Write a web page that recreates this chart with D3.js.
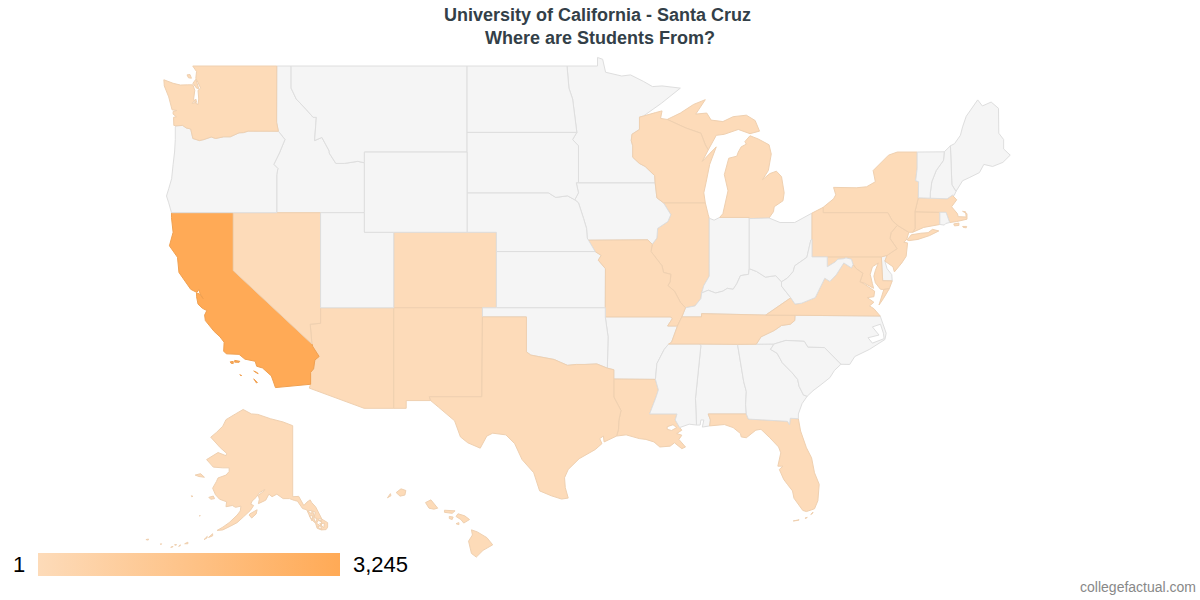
<!DOCTYPE html>
<html><head><meta charset="utf-8">
<script src="https://cdn.jsdelivr.net/npm/d3@7"></script>
<style>html,body{margin:0;background:#fff}svg{display:block}</style></head>
<body><svg id="c" width="1200" height="600"></svg>
<script>
const titleLines=["University of California - Santa Cruz","Where are Students From?"];
const credit="collegefactual.com";
const legendMin=1, legendMax=3245;

const WA=[[[-122.76,49],[-117.03,49],[-117.04,46.42],[-116.92,45.995],[-118.98,46],[-119.3,45.93],[-119.6,45.92],[-120.2,45.73],[-120.65,45.73],[-121.2,45.65],[-121.5,45.72],[-122,45.6],[-122.3,45.55],[-122.75,45.65],[-122.9,46.1],[-123.2,46.15],[-123.45,46.27],[-123.9,46.25],[-124.05,46.27],[-124.07,46.65],[-123.88,46.68],[-124.1,46.8],[-124.1,46.92],[-123.85,46.97],[-124.17,47],[-124.4,47.6],[-124.7,48.1],[-124.73,48.38],[-124.1,48.22],[-123.6,48.14],[-123.1,48.15],[-122.75,48.15],[-122.62,47.9],[-122.7,47.5],[-122.55,47.3],[-122.4,47.25],[-122.35,47.5],[-122.4,47.9],[-122.22,48],[-122.4,48.25],[-122.55,48.45],[-122.5,48.75]],
[[-122.75,48.22],[-122.55,48.4],[-122.45,48.2],[-122.35,47.98],[-122.5,48.0]],[[-123.15,48.6],[-122.95,48.62],[-122.85,48.45],[-123.05,48.47]],[[-122.8,47.3],[-122.55,47.5],[-122.5,47.35]]];
const OR=[[[-116.92,45.995],[-118.98,46],[-119.3,45.93],[-119.6,45.92],[-120.2,45.73],[-120.65,45.73],[-121.2,45.65],[-121.5,45.72],[-122,45.6],[-122.3,45.55],[-122.75,45.65],[-122.9,46.1],[-123.2,46.15],[-123.45,46.27],[-123.9,46.25],[-123.95,46.2],[-123.95,45.6],[-124,45],[-124.1,44.4],[-124.2,43.7],[-124.4,43.2],[-124.55,42.84],[-124.4,42.5],[-124.21,42],[-120,42],[-117.03,42],[-117.03,43.9],[-116.95,44.2],[-117.23,44.4],[-116.85,44.95],[-116.47,45.6]]];
const ID=[[[-117.03,49],[-116.05,49],[-116.05,48],[-115.7,47.5],[-115,47],[-114.55,46.65],[-114.33,46.65],[-114.45,45.55],[-113.95,45.7],[-113.45,45.05],[-113.45,44.95],[-113,44.45],[-112.4,44.45],[-111.5,44.55],[-111.05,44.48],[-111.05,42],[-114.04,42],[-117.03,42],[-117.03,43.9],[-116.95,44.2],[-117.23,44.4],[-116.85,44.95],[-116.47,45.6],[-116.92,45.995],[-117.04,46.42]]];
const MT=[[[-116.05,49],[-104.05,49],[-104.05,45.94],[-104.05,45],[-111.05,45],[-111.05,44.48],[-111.5,44.55],[-112.4,44.45],[-113,44.45],[-113.45,44.95],[-113.45,45.05],[-113.95,45.7],[-114.45,45.55],[-114.33,46.65],[-114.55,46.65],[-115,47],[-115.7,47.5],[-116.05,48]]];
const WY=[[[-111.05,45],[-104.05,45],[-104.05,43],[-104.05,41],[-109.05,41],[-111.05,41],[-111.05,42],[-111.05,44.48]]];
const CA=[[[-124.21,42],[-120,42],[-120,39],[-114.63,35],[-114.57,34.85],[-114.14,34.3],[-114.43,34.1],[-114.52,33.6],[-114.72,33.4],[-114.72,32.72],[-117.12,32.53],[-117.25,32.85],[-117.4,33.2],[-118,33.65],[-118.4,33.75],[-118.5,34.03],[-119.2,34.15],[-119.6,34.42],[-120.47,34.45],[-120.65,34.6],[-120.62,35.1],[-120.9,35.4],[-121.3,35.7],[-121.9,36.3],[-121.95,36.6],[-121.8,36.85],[-122.1,36.97],[-122.4,37.2],[-122.5,37.6],[-122.5,37.8],[-122.3,37.75],[-122.05,37.5],[-122.25,37.75],[-122.35,37.98],[-122.48,37.83],[-122.9,38],[-123.7,38.9],[-123.8,39.7],[-124.35,40.3],[-124.1,41],[-124.21,41.75]],
[[-119.9,34.08],[-119.55,34.03],[-119.6,33.97],[-119.9,33.98]],[[-120.2,34],[-120,34.02],[-120,33.9],[-120.15,33.92]],[[-118.6,33.03],[-118.35,32.82],[-118.42,32.8]],[[-118.6,33.48],[-118.35,33.38],[-118.3,33.32],[-118.5,33.42]],[[-119.55,33.27],[-119.42,33.22],[-119.5,33.22]]];
const NV=[[[-120,42],[-117.03,42],[-114.04,42],[-114.04,37],[-114.04,36.15],[-114.75,36.1],[-114.63,35],[-120,39]]];
const UT=[[[-114.04,42],[-111.05,42],[-111.05,41],[-109.05,41],[-109.05,37],[-114.04,37]]];
const AZ=[[[-114.04,37],[-109.05,37],[-109.05,31.33],[-111.07,31.33],[-114.81,32.5],[-114.72,32.72],[-114.72,33.4],[-114.52,33.6],[-114.43,34.1],[-114.14,34.3],[-114.57,34.85],[-114.63,35],[-114.75,36.1],[-114.04,36.15]]];
const CO=[[[-109.05,41],[-102.05,41],[-102.05,40],[-102.05,37],[-103,37],[-109.05,37]]];
const NM=[[[-109.05,37],[-103,37],[-103,36.5],[-103.04,32],[-106.62,32],[-106.53,31.78],[-108.2,31.78],[-108.2,31.33],[-109.05,31.33]]];
const OK=[[[-103,37],[-102.05,37],[-94.62,37],[-94.62,36.5],[-94.43,35.4],[-94.48,33.64],[-95.2,33.88],[-96,33.85],[-96.6,33.85],[-97.2,33.8],[-97.7,33.98],[-98.1,34.13],[-99.2,34.3],[-99.7,34.38],[-100,34.56],[-100,36.5],[-103,36.5]]];
const TX=[[[-103,36.5],[-100,36.5],[-100,34.56],[-99.7,34.38],[-99.2,34.3],[-98.1,34.13],[-97.7,33.98],[-97.2,33.8],[-96.6,33.85],[-96,33.85],[-95.2,33.88],[-94.48,33.64],[-94.04,33.55],[-94.04,33.02],[-94.04,31.99],[-93.55,31.2],[-93.7,30.6],[-93.72,30.1],[-93.85,29.7],[-94.7,29.35],[-94.75,29.7],[-95,29.55],[-94.85,29.25],[-95.3,28.9],[-96.4,28.35],[-97.15,27.7],[-97.4,27.2],[-97.35,26.6],[-97.15,25.96],[-97.6,25.9],[-98.3,26.1],[-99.1,26.4],[-99.5,27.5],[-100.3,28.3],[-100.8,29.25],[-101.4,29.77],[-102.3,29.87],[-102.7,29.7],[-103.15,28.98],[-104,29.3],[-104.5,29.65],[-104.9,30.6],[-106,31.4],[-106.53,31.78],[-106.62,32],[-103.04,32]]];
const ND=[[[-104.05,49],[-97.23,49],[-97.1,48],[-96.85,47.5],[-96.56,45.94],[-104.05,45.94]]];
const SD=[[[-104.05,45.94],[-96.56,45.94],[-96.85,45.6],[-96.45,45.3],[-96.45,43.5],[-96.6,43.5],[-96.45,43],[-96.7,42.65],[-97.2,42.85],[-98,42.77],[-98.5,43],[-104.05,43]]];
const NE=[[[-104.05,43],[-98.5,43],[-98,42.77],[-97.2,42.85],[-96.7,42.65],[-96.45,42.5],[-96.1,41.7],[-95.9,41.2],[-95.85,40.7],[-95.31,40],[-102.05,40],[-102.05,41],[-104.05,41]]];
const KS=[[[-102.05,40],[-95.31,40],[-94.9,39.8],[-95.1,39.55],[-94.61,39.1],[-94.62,37],[-102.05,37]]];
const MN=[[[-97.23,49],[-95.15,49],[-95.15,49.38],[-94.8,49.3],[-94.6,48.72],[-93.5,48.55],[-92.9,48.6],[-92,48.3],[-91.4,48.07],[-90.75,48.1],[-89.5,48],[-90.8,47.3],[-92.02,46.71],[-92.29,46.66],[-92.29,46.08],[-92.8,45.85],[-92.85,45.55],[-92.75,45.3],[-92.75,44.75],[-92.3,44.45],[-91.9,44.3],[-91.25,43.85],[-91.22,43.5],[-96.45,43.5],[-96.45,45.3],[-96.85,45.6],[-96.56,45.94],[-96.85,47.5],[-97.1,48]]];
const IA=[[[-96.45,43.5],[-91.22,43.5],[-91.1,42.75],[-90.65,42.5],[-90.15,41.9],[-90.35,41.55],[-91.05,41.2],[-91.1,40.7],[-91.42,40.38],[-91.73,40.61],[-95.77,40.59],[-95.85,40.7],[-95.9,41.2],[-96.1,41.7],[-96.45,42.5],[-96.7,42.65],[-96.45,43],[-96.6,43.5]]];
const MO=[[[-95.77,40.59],[-91.73,40.61],[-91.42,40.38],[-91.5,40],[-90.75,39.25],[-90.65,38.9],[-90.15,38.8],[-90.2,38.4],[-90.35,38.2],[-89.9,37.9],[-89.5,37.3],[-89.15,37],[-89.4,36.5],[-89.7,36],[-90.37,36],[-90.05,36.4],[-90.15,36.5],[-94.62,36.5],[-94.62,37],[-94.61,39.1],[-95.1,39.55],[-94.9,39.8],[-95.31,40]]];
const AR=[[[-94.62,36.5],[-90.15,36.5],[-90.05,36.4],[-90.37,36],[-89.7,36],[-90.1,35.1],[-90.6,34.7],[-91.1,33.9],[-91.2,33],[-94.04,33.02],[-94.04,33.55],[-94.48,33.64],[-94.43,35.4]]];
const LA=[[[-94.04,33.02],[-91.2,33],[-91,32.4],[-91.15,32],[-91.6,31],[-89.73,31],[-89.85,30.65],[-89.55,30.2],[-89.4,30.05],[-89.75,29.85],[-89.4,29.75],[-89.6,29.5],[-89.15,29.05],[-89.4,28.95],[-89.9,29.3],[-90.2,29.1],[-90.9,29.05],[-91.3,29.35],[-91.85,29.5],[-92.3,29.55],[-93.2,29.77],[-93.85,29.7],[-93.72,30.1],[-93.7,30.6],[-93.55,31.2],[-94.04,31.99]],
[[-90.4,30.25],[-90,30.37],[-89.75,30.2],[-90.1,30.03],[-90.4,30.1]]];
const MS=[[[-91.2,33],[-91.1,33.9],[-90.6,34.7],[-90.3,35],[-88.2,35],[-88.1,34.9],[-88.47,31.9],[-88.4,30.35],[-88.9,30.4],[-89.55,30.2],[-89.85,30.65],[-89.73,31],[-91.6,31],[-91.15,32],[-91,32.4]]];
const TN=[[[-90.3,35],[-90.1,35.1],[-89.7,36],[-89.4,36.5],[-88.06,36.5],[-88.05,36.68],[-83.68,36.6],[-81.68,36.59],[-81.7,36.3],[-82,36.1],[-82.6,36.03],[-83.1,35.75],[-84,35.4],[-84.32,34.99],[-85.6,34.98],[-88.2,35]]];
const AL=[[[-88.2,35],[-85.6,34.98],[-85.18,32.87],[-85,32.3],[-85.05,31.55],[-85,31],[-87.6,31],[-87.45,30.65],[-87.5,30.3],[-88,30.23],[-87.9,30.65],[-88.1,30.65],[-88.15,30.35],[-88.4,30.35],[-88.47,31.9],[-88.1,34.9]]];
const GA=[[[-85.6,34.98],[-84.32,34.99],[-83.11,35],[-83.35,34.7],[-82.9,34.48],[-82.55,33.95],[-81.9,33.4],[-81.5,33],[-81.4,32.6],[-81.1,32.1],[-80.85,32.03],[-81.2,31.6],[-81.45,31],[-81.45,30.72],[-82,30.75],[-82.05,30.37],[-82.2,30.57],[-84.86,30.7],[-85,31],[-85.05,31.55],[-85,32.3],[-85.18,32.87]]];
const FL=[[[-87.6,31],[-85,31],[-84.86,30.7],[-82.2,30.57],[-82.05,30.37],[-82,30.75],[-81.45,30.72],[-81.3,30],[-80.9,29],[-80.55,28.4],[-80.35,27.5],[-80.03,26.8],[-80.12,25.8],[-80.35,25.3],[-80.9,25.13],[-81.15,25.2],[-81.75,25.95],[-81.85,26.4],[-82.2,26.8],[-82.45,27.1],[-82.75,27.7],[-82.5,27.9],[-82.85,27.9],[-82.65,28.7],[-82.8,29.05],[-83.4,29.6],[-84,30.1],[-84.35,30.05],[-85,29.6],[-85.35,29.65],[-85.4,29.85],[-85.9,30.2],[-86.5,30.38],[-87.5,30.3],[-87.45,30.65]],
[[-80.6,24.95],[-80.45,25.1],[-80.5,25.0]],[[-81,24.72],[-80.85,24.78],[-80.9,24.72]],[[-81.8,24.55],[-81.4,24.62],[-81.5,24.58]]];
const SC=[[[-83.11,35],[-82.3,35.2],[-81.05,35.15],[-80.8,34.82],[-79.67,34.8],[-78.55,33.86],[-79,33.5],[-79.3,33.1],[-79.9,32.7],[-80.45,32.35],[-80.85,32.03],[-81.1,32.1],[-81.4,32.6],[-81.5,33],[-81.9,33.4],[-82.55,33.95],[-82.9,34.48],[-83.35,34.7]]];
const NC=[[[-84.32,34.99],[-83.11,35],[-82.3,35.2],[-81.05,35.15],[-80.8,34.82],[-79.67,34.8],[-78.55,33.86],[-77.95,33.85],[-77.6,34.3],[-76.6,34.7],[-75.55,35.25],[-75.46,35.6],[-75.87,36.55],[-81.68,36.59],[-81.7,36.3],[-82,36.1],[-82.6,36.03],[-83.1,35.75],[-84,35.4]],
[[-75.6,35.3],[-76.4,35.05],[-76.7,35.35],[-75.95,35.5],[-76.4,35.95],[-75.85,36.1],[-75.65,35.6]]];
const VA=[[[-83.68,36.6],[-81.68,36.59],[-75.87,36.55],[-76.3,36.95],[-76.6,37.1],[-76.3,37.3],[-76.75,37.55],[-76.3,37.6],[-76.25,37.9],[-76.95,38.28],[-77.25,38.4],[-77.05,38.85],[-77.5,39.1],[-77.72,39.32],[-77.83,39.14],[-78.35,39.4],[-78.87,38.77],[-79.3,38.42],[-79.65,38.59],[-80.3,37.55],[-81.23,37.25],[-81.68,37.2],[-81.97,37.54]],
[[-75.25,38.03],[-75.62,37.99],[-75.95,37.15],[-75.65,37.5]]];
const WV=[[[-77.72,39.32],[-77.83,39.14],[-78.35,39.4],[-78.87,38.77],[-79.3,38.42],[-79.65,38.59],[-80.3,37.55],[-81.23,37.25],[-81.68,37.2],[-81.97,37.54],[-82.6,38.17],[-82.6,38.4],[-82.2,38.6],[-81.8,38.95],[-81.7,39.25],[-80.87,39.7],[-80.6,40.6],[-80.52,40.64],[-80.52,39.72],[-79.48,39.72],[-79.48,39.2],[-78.95,39.45],[-78.75,39.6],[-78.4,39.62],[-78.2,39.67],[-77.83,39.6]]];
const KY=[[[-89.4,36.5],[-89.15,37],[-88.5,37.1],[-88.1,37.5],[-88.05,37.8],[-87.6,37.95],[-87.1,37.8],[-86.6,37.9],[-86.3,38.05],[-85.9,38],[-85.65,38.3],[-85.4,38.73],[-84.85,38.8],[-84.8,39.1],[-84.3,38.95],[-83.7,38.65],[-83,38.73],[-82.6,38.4],[-82.6,38.17],[-81.97,37.54],[-83.68,36.6],[-88.05,36.68],[-88.06,36.5]]];
const OH=[[[-84.8,41.7],[-83.45,41.73],[-82.7,41.5],[-81.7,41.5],[-80.52,41.98],[-80.52,40.64],[-80.6,40.6],[-80.87,39.7],[-81.7,39.25],[-81.8,38.95],[-82.2,38.6],[-82.6,38.4],[-83,38.73],[-83.7,38.65],[-84.3,38.95],[-84.8,39.1]]];
const IN=[[[-87.53,41.72],[-87.2,41.62],[-86.82,41.76],[-84.8,41.76],[-84.8,39.1],[-84.85,38.8],[-85.4,38.73],[-85.65,38.3],[-85.9,38],[-86.3,38.05],[-86.6,37.9],[-87.1,37.8],[-87.6,37.95],[-88.05,37.8],[-87.9,38.2],[-87.53,38.7],[-87.53,39.35]]];
const IL=[[[-90.65,42.5],[-87.8,42.5],[-87.6,41.9],[-87.53,41.72],[-87.53,39.35],[-87.53,38.7],[-87.9,38.2],[-88.05,37.8],[-88.1,37.5],[-88.5,37.1],[-89.15,37],[-89.5,37.3],[-89.9,37.9],[-90.35,38.2],[-90.2,38.4],[-90.15,38.8],[-90.65,38.9],[-90.75,39.25],[-91.5,40],[-91.42,40.38],[-91.1,40.7],[-91.05,41.2],[-90.35,41.55],[-90.15,41.9]]];
const WI=[[[-92.29,46.66],[-92.02,46.71],[-91.2,46.87],[-90.75,46.95],[-90.85,46.6],[-90.4,46.55],[-89.1,46.14],[-88.1,45.9],[-87.8,45.35],[-87.6,45.1],[-88,44.55],[-87.4,45],[-87.05,45.25],[-87.5,44.4],[-87.75,43.5],[-87.9,43],[-87.8,42.5],[-90.65,42.5],[-91.1,42.75],[-91.22,43.5],[-91.25,43.85],[-91.9,44.3],[-92.3,44.45],[-92.75,44.75],[-92.75,45.3],[-92.85,45.55],[-92.8,45.85],[-92.29,46.08]]];
const MI=[[[-86.82,41.76],[-84.8,41.76],[-84.8,41.7],[-83.45,41.73],[-83.15,42.05],[-83.1,42.3],[-82.5,42.6],[-82.42,43],[-82.6,43.8],[-82.95,44.07],[-83.4,43.95],[-83.9,43.65],[-83.5,44.1],[-83.3,44.9],[-83.45,45.35],[-84.2,45.63],[-84.75,45.78],[-85.1,45.5],[-85,45.38],[-85.35,45.25],[-85.55,45],[-85.65,44.8],[-86.2,44.7],[-86.5,43.9],[-86.25,43.1],[-86.6,41.95]],
[[-90.4,46.55],[-89.1,46.14],[-88.1,45.9],[-87.8,45.35],[-87.6,45.1],[-87.05,45.8],[-86.5,45.85],[-85.55,46.08],[-84.75,45.88],[-84.1,46],[-84.4,46.5],[-85,46.75],[-85.9,46.68],[-86.6,46.45],[-87.4,46.52],[-87.7,46.85],[-88.45,46.8],[-87.8,47.47],[-88.6,47.25],[-89.5,46.85]]];
const PA=[[[-80.52,41.98],[-79.76,42.27],[-79.76,42],[-75.35,42],[-75.05,41.6],[-74.7,41.36],[-75.13,40.98],[-75.2,40.68],[-74.72,40.15],[-75.4,39.8],[-75.79,39.72],[-79.48,39.72],[-80.52,39.72],[-80.52,40.64]]];
const NY=[[[-79.76,42.27],[-79.05,42.7],[-78.9,42.9],[-79.05,43.27],[-77.5,43.25],[-76.8,43.3],[-76.2,43.55],[-76.35,44.1],[-75.3,44.85],[-74.7,45],[-73.35,45],[-73.35,44.2],[-73.45,43.6],[-73.25,43.55],[-73.27,42.75],[-73.5,42.05],[-73.49,41.2],[-73.65,41],[-73.92,41],[-74.7,41.36],[-75.05,41.6],[-75.35,42],[-79.76,42]],
[[-74.03,40.6],[-73.75,40.87],[-73.1,40.95],[-72.6,40.98],[-72.3,41.15],[-71.87,41.07],[-72.5,40.83],[-73.3,40.63],[-73.9,40.57]]];
const NJ=[[[-74.7,41.36],[-73.92,41],[-74.05,40.65],[-74.25,40.48],[-74,40.45],[-74.1,39.75],[-74.4,39.4],[-74.9,38.93],[-75,39.2],[-75.55,39.5],[-75.4,39.8],[-74.72,40.15],[-75.2,40.68],[-75.13,40.98]]];
const DE=[[[-75.79,39.72],[-75.4,39.8],[-75.55,39.5],[-75.4,39.1],[-75.08,38.78],[-75.05,38.45],[-75.7,38.46]]];
const MD=[[[-79.48,39.72],[-75.79,39.72],[-75.7,38.46],[-75.05,38.45],[-75.25,38.03],[-75.62,37.99],[-75.85,38],[-76.2,38.35],[-76.3,38.7],[-76.2,39],[-76,39.4],[-76.4,39.2],[-76.55,38.8],[-76.4,38.3],[-76.32,38.05],[-76.95,38.33],[-77.25,38.4],[-77.05,38.85],[-77.5,39.1],[-77.72,39.32],[-77.83,39.6],[-78.2,39.67],[-78.4,39.62],[-78.75,39.6],[-78.95,39.45],[-79.48,39.2]]];
const CT=[[[-73.5,42.05],[-71.8,42.02],[-71.8,41.4],[-72.9,41.25],[-73.65,41],[-73.49,41.2]]];
const RI=[[[-71.8,42.02],[-71.38,42.02],[-71.13,41.5],[-71.4,41.45],[-71.5,41.37],[-71.8,41.4]]];
const MA=[[[-73.5,42.05],[-73.27,42.75],[-72.46,42.73],[-71.3,42.7],[-70.95,42.88],[-70.65,42.65],[-71,42.3],[-70.6,41.95],[-70.55,41.8],[-70,41.78],[-70.05,42.05],[-70.25,42.07],[-69.95,41.95],[-69.95,41.67],[-70.65,41.55],[-71.13,41.5],[-71.38,42.02],[-71.8,42.02]],
[[-70.85,41.43],[-70.5,41.47],[-70.5,41.35],[-70.8,41.33]],[[-70.25,41.3],[-69.97,41.3],[-70,41.23],[-70.2,41.25]]];
const VT=[[[-73.35,45],[-71.5,45.01],[-71.55,44.6],[-72.05,44.1],[-72.35,43.55],[-72.45,43],[-72.46,42.73],[-73.27,42.75],[-73.25,43.55],[-73.45,43.6],[-73.35,44.2]]];
const NH=[[[-71.5,45.01],[-71.08,45.3],[-70.98,43.4],[-70.7,43.07],[-70.82,42.87],[-70.95,42.88],[-71.3,42.7],[-72.46,42.73],[-72.45,43],[-72.35,43.55],[-72.05,44.1],[-71.55,44.6]]];
const ME=[[[-71.08,45.3],[-70.8,45.4],[-70.4,45.8],[-70.25,46.2],[-70,46.7],[-69.22,47.46],[-68.9,47.18],[-68.3,47.36],[-67.8,47.07],[-67.78,45.9],[-67.45,45.6],[-67.45,45.15],[-67,44.85],[-67.5,44.5],[-68.2,44.3],[-68.8,44.4],[-69.1,44],[-69.8,43.75],[-70.25,43.6],[-70.7,43.07],[-70.98,43.4]]];
const AK=[[[-141,69.65],[-141,60.3],[-139.1,60.35],[-137.5,58.9],[-136.5,59.45],[-135.5,59.8],[-135,59.35],[-133.8,58.7],[-131.8,56.6],[-130,56],[-130,55.2],[-130.5,54.75],[-132,54.7],[-133.3,55],[-133.8,55.9],[-134.8,56.4],[-135.8,57.3],[-136.6,58.2],[-137.9,58.4],[-139.5,59.6],[-140.4,59.7],[-142,60],[-144,60],[-146,60.7],[-147.5,60.3],[-148.5,60.7],[-149.5,59.75],[-151.8,59.2],[-151.5,59.9],[-151.8,60.5],[-150,61.2],[-149.8,61.4],[-151.5,60.9],[-152.5,60.2],[-153.8,59.6],[-154.2,59.1],[-153.3,58.9],[-154.3,58.1],[-156.5,57],[-158.5,56],[-160.5,55.4],[-163,54.7],[-164.8,54.6],[-163,55.2],[-161,56],[-158.5,57.3],[-157.5,58],[-157.3,58.8],[-159,58.6],[-160,58.9],[-162,58.7],[-161.8,59.5],[-164,59.9],[-165.3,60.6],[-166.2,61.6],[-165,62.6],[-164.5,63.1],[-162,63.5],[-161,64],[-161,64.5],[-163,64.5],[-166,64.6],[-168.1,65.6],[-164.5,66.5],[-162,66.1],[-161.8,66.4],[-163.8,67.1],[-166.8,68.35],[-165,68.9],[-163,69.6],[-162,70.3],[-159,70.9],[-156.6,71.35],[-154,70.9],[-152,70.85],[-148,70.4],[-144,70.05]],
[[-154.5,57.5],[-152.2,58.2],[-152.5,57.5],[-153.9,56.8],[-154.7,57.3]],[[-171.7,63.5],[-170,63.7],[-168.8,63.2],[-170.5,63.3]],[[-167.4,60.2],[-166,60.4],[-165.6,60],[-166.8,59.9]],[[-172.9,60.45],[-172.4,60.35],[-172.8,60.3]],[[-170.4,57.2],[-170.1,57.22],[-170.2,57.12]],
[[-167.5,53.3],[-166.2,54],[-166.2,53.6]],[[-168.9,52.9],[-167.9,53.5],[-168,53.2]],[[-175,52.1],[-174,52.4],[-174,52.1]],[[-176.9,51.6],[-176.4,51.9],[-176.4,51.7]],[[-178.2,51.9],[-177.6,51.95],[-177.7,51.8]],[[-179.4,51.4],[-178.7,51.6],[-178.8,51.45]],[[-182.6,52.1],[-182.3,52.1],[-182.5,51.9]],[[-187.2,52.9],[-186.4,53],[-186.5,52.8]],
[[-133.5,55.9],[-132,55.3],[-131.9,56.3],[-132.9,56.4]],[[-136.3,58],[-135,57.5],[-135,58.1]],[[-135.8,57.2],[-134.9,56.3],[-134.7,57.2]],[[-134.7,58],[-134.2,57],[-133.9,57.8]],[[-132.5,55.8],[-131.2,55.1],[-131,55.9]],[[-134.4,56.9],[-133.9,56],[-133.3,56.7]],[[-133,56.6],[-132.2,56.1],[-132,56.7]],[[-133.2,55.2],[-131.9,54.8],[-132.2,55.5]]];
const HI=[[[-155.9,20.25],[-155.6,20.15],[-155.1,19.87],[-154.8,19.52],[-155.3,19.25],[-155.65,18.92],[-155.9,19.1],[-156.05,19.7],[-155.85,20]],
[[-156.7,20.9],[-156.6,21.03],[-156.25,20.93],[-156,20.75],[-156.3,20.58],[-156.45,20.75]],[[-157.3,21.2],[-156.75,21.17],[-156.9,21.05],[-157.3,21.1]],[[-157.05,20.9],[-156.85,20.87],[-156.9,20.75],[-157.05,20.8]],[[-156.7,20.55],[-156.55,20.6],[-156.55,20.5]],
[[-158.28,21.57],[-158,21.7],[-157.65,21.3],[-157.85,21.25],[-158.1,21.3]],[[-159.8,22.05],[-159.55,22.23],[-159.3,22.15],[-159.35,21.93],[-159.6,21.88]],[[-160.25,21.8],[-160.1,22],[-160.07,21.9]]];

const stateCodes=["AL","AK","AZ","AR","CA","CO","CT","DE","FL","GA","HI","ID","IL","IN","IA","KS","KY","LA","ME","MD","MA","MI","MN","MS","MO","MT","NE","NV","NH","NJ","NM","NY","NC","ND","OH","OK","OR","PA","RI","SC","SD","TN","TX","UT","VT","VA","WA","WV","WI","WY"];
const stateShapes=[AL,AK,AZ,AR,CA,CO,CT,DE,FL,GA,HI,ID,IL,IN,IA,KS,KY,LA,ME,MD,MA,MI,MN,MS,MO,MT,NE,NV,NH,NJ,NM,NY,NC,ND,OH,OK,OR,PA,RI,SC,SD,TN,TX,UT,VT,VA,WA,WV,WI,WY];
const stateValues=[null,2,8,null,3245,15,3,null,12,null,20,null,9,null,null,null,null,1,null,4,6,3,null,null,2,null,null,14,null,5,4,18,null,null,null,null,null,6,null,null,null,2,16,null,null,5,25,null,3,null];

const colorLow="#fddbb9", colorHigh="#ffaa56", noData="#f5f5f5", noStroke="#dedede";
const color=d3.scaleLinear().domain([legendMin,legendMax]).range([colorLow,colorHigh]);

const svg=d3.select("#c");
const grad=svg.append("defs").append("linearGradient").attr("id","lg");
grad.selectAll("stop").data([legendMin,legendMax]).join("stop")
  .attr("offset",(d,i)=>i).attr("stop-color",d=>color(d));

const lower=d3.geoMercator().scale(840).center([-124.7,49]).translate([164.3,66]);
const alaska=d3.geoMercator().rotate([150,0]).scale(182).center([9,71.4]).translate([292.7,409]);
const hawaii=d3.geoMercator().rotate([150,0]).scale(1106).center([-4.8,18.91]).translate([492.7,557.3]);
const pathFor=p=>d3.geoPath(d3.geoTransform({point(x,y){const q=p([x,y]);this.stream.point(q[0],q[1]);}}));
const paths={lower:pathFor(lower),alaska:pathFor(alaska),hawaii:pathFor(hawaii)};

const rows=stateCodes.map((c,i)=>({code:c,value:stateValues[i],rings:stateShapes[i]}));
svg.append("g").selectAll("path").data(rows).join("path")
  .attr("d",d=>{const g={type:"MultiPolygon",coordinates:d.rings.map(r=>[r.concat([r[0]])])};
    return (d.code==="AK"?paths.alaska:d.code==="HI"?paths.hawaii:paths.lower)(g);})
  .attr("fill",d=>d.value==null?noData:color(d.value))
  .attr("fill-rule","evenodd")
  .attr("stroke",d=>d.value==null?noStroke:(d.code==="CA"?"#f0a050":"#efd0b0"))
  .attr("stroke-width",1).attr("stroke-linejoin","round");

const font="'Liberation Sans',Arial,sans-serif";
svg.append("g").selectAll("text").data(titleLines).join("text")
  .attr("x",(d,i)=>i?600:597.5).attr("y",(d,i)=>21+i*23).attr("text-anchor","middle")
  .attr("font-family",font).attr("font-weight","bold").attr("font-size",18).attr("fill","#333f48").text(d=>d);

const legendScale=d3.scaleLinear().domain([legendMin,legendMax]).range([38,340]);
svg.append("rect").attr("x",legendScale(legendMin)).attr("y",553).attr("width",legendScale(legendMax)-legendScale(legendMin)).attr("height",23).attr("fill","url(#lg)");
svg.append("text").attr("x",13).attr("y",572).attr("font-family",font).attr("font-size",22).attr("fill","#000").text(d3.format(",")(legendMin));
svg.append("text").attr("x",353).attr("y",572).attr("font-family",font).attr("font-size",22).attr("fill","#000").text(d3.format(",")(legendMax));
svg.append("text").attr("x",1196).attr("y",592).attr("text-anchor","end").attr("font-family",font).attr("font-size",14).attr("fill","#888").text(credit);
</script></body></html>
